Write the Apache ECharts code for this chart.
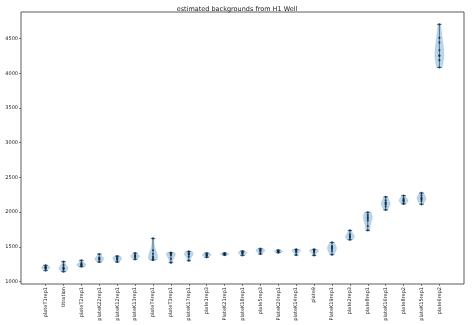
<!DOCTYPE html>
<html><head><meta charset="utf-8">
<script src="https://cdn.jsdelivr.net/npm/echarts@6/dist/echarts.min.js"></script>
<style>html,body{margin:0;padding:0;background:#fff}#c{width:474px;height:325px}</style>
</head><body><div id="c"></div>
<script>
const titleText = 'estimated backgrounds from H1 Well';
const categories = ['plateT1rep1','titration','plateT2rep1','plateK22rep1','plateK12rep1','plateK13rep1','plateT4rep1','plateT3rep1','plateK17rep1','plate1rep3','PlateK21rep1','plateK18rep1','plate5rep3','PlateK20rep1','plateK14rep1','plate9','PlateK19rep1','plate2rep3','plate8rep1','plateK16rep1','plate8rep2','plateK15rep1','plate6rep2'];
const vPlateT1rep1 = [1158, 1185, 1195, 1200, 1205, 1215, 1234];
const vTitration = [1143, 1175, 1185, 1195, 1205, 1240, 1287];
const vPlateT2rep1 = [1215, 1232, 1240, 1248, 1265, 1305];
const vPlateK22rep1 = [1281, 1315, 1325, 1335, 1345, 1396];
const vPlateK12rep1 = [1281, 1310, 1325, 1335, 1350, 1367];
const vPlateK13rep1 = [1320, 1350, 1360, 1370, 1380, 1410];
const vPlateT4rep1 = [1310, 1320, 1340, 1360, 1400, 1450, 1621];
const vPlateT3rep1 = [1272, 1330, 1380, 1395, 1405, 1416];
const vPlateK17rep1 = [1301, 1360, 1390, 1400, 1410, 1434];
const vPlate1rep3 = [1349, 1370, 1378, 1385, 1395, 1410];
const vPlateK21rep1 = [1381, 1390, 1395, 1398, 1402, 1410];
const vPlateK18rep1 = [1377, 1400, 1410, 1418, 1425, 1439];
const vPlate5rep3 = [1396, 1425, 1440, 1450, 1458, 1473];
const vPlateK20rep1 = [1416, 1428, 1433, 1437, 1442, 1453];
const vPlateK14rep1 = [1381, 1420, 1440, 1448, 1455, 1463];
const vPlate9 = [1377, 1415, 1435, 1445, 1455, 1463];
const vPlateK19rep1 = [1387, 1440, 1470, 1490, 1510, 1563];
const vPlate2rep3 = [1602, 1630, 1645, 1660, 1680, 1736];
const vPlate8rep1 = [1736, 1800, 1880, 1910, 1930, 1960, 1998];
const vPlateK16rep1 = [2032, 2080, 2110, 2125, 2140, 2170, 2219];
const vPlate8rep2 = [2118, 2145, 2160, 2170, 2180, 2200, 2238];
const vPlateK15rep1 = [2113, 2160, 2185, 2195, 2210, 2240, 2276];
const vPlate6rep2 = [4083, 4188, 4250, 4259, 4331, 4441, 4508, 4704];
const seriesValues = [vPlateT1rep1, vTitration, vPlateT2rep1, vPlateK22rep1, vPlateK12rep1, vPlateK13rep1, vPlateT4rep1, vPlateT3rep1, vPlateK17rep1, vPlate1rep3, vPlateK21rep1, vPlateK18rep1, vPlate5rep3, vPlateK20rep1, vPlateK14rep1, vPlate9, vPlateK19rep1, vPlate2rep3, vPlate8rep1, vPlateK16rep1, vPlate8rep2, vPlateK15rep1, vPlate6rep2];
const yTicks = [1000, 1500, 2000, 2500, 3000, 3500, 4000, 4500];

const positions = categories.map((c, i) => i + 1);

function kdeProfile(vals) {
  const n = vals.length;
  const mean = vals.reduce((a, b) => a + b, 0) / n;
  const sd = Math.sqrt(vals.reduce((a, b) => a + (b - mean) * (b - mean), 0) / (n - 1));
  const bw = sd * Math.pow(n, -0.2);
  const lo = Math.min(...vals), hi = Math.max(...vals);
  const out = [];
  for (let k = 0; k < 100; k++) {
    const y = lo + (hi - lo) * k / 99;
    let d = 0;
    for (const x of vals) d += Math.exp(-0.5 * ((y - x) / bw) ** 2);
    out.push([y, d]);
  }
  const mx = Math.max(...out.map(p => p[1]));
  return out.map(p => [p[0], p[1] / mx]);
}

const violinData = positions.map((p, i) => [p, Math.min(...seriesValues[i]), Math.max(...seriesValues[i])]);
const pointData = [];
positions.forEach((p, i) => seriesValues[i].forEach(v => pointData.push([p, v])));

const font = 'DejaVu Sans';
const chart = echarts.init(document.getElementById('c'));
chart.setOption({
  animation: false,
  title: { text: titleText, left: 'center', top: 1, textStyle: { fontSize: 6.5, fontWeight: 'normal', color: '#222', fontFamily: font } },
  grid: { left: 21, right: 10, top: 12, bottom: 41, show: true, borderColor: '#333', borderWidth: 0.8 },
  xAxis: {
    type: 'value', min: -0.375, max: 24.375,
    axisLine: { show: false, onZero: false },
    splitLine: { show: false },
    axisTick: { show: true, customValues: positions, length: 2, lineStyle: { color: '#333', width: 0.6 } },
    axisLabel: { customValues: positions, rotate: 90, fontSize: 5, color: '#222', fontFamily: font, margin: 3,
      formatter: v => categories[Math.round(v) - 1] || '' }
  },
  yAxis: {
    type: 'value', min: 965, max: 4882,
    axisLine: { show: false, onZero: false },
    splitLine: { show: false },
    axisTick: { show: true, customValues: yTicks, length: 2, lineStyle: { color: '#333', width: 0.6 } },
    axisLabel: { customValues: yTicks, fontSize: 5, color: '#222', fontFamily: font, margin: 3,
      formatter: v => String(Math.round(v)) }
  },
  series: [
    {
      type: 'custom',
      data: violinData,
      encode: { x: 0, y: [1, 2] },
      renderItem: function (params, api) {
        const i = params.dataIndex;
        const pos = api.value(0);
        const prof = kdeProfile(seriesValues[i]);
        const right = prof.map(p => api.coord([pos + 0.25 * p[1], p[0]]));
        const left = prof.slice().reverse().map(p => api.coord([pos - 0.25 * p[1], p[0]]));
        const lo = api.value(1), hi = api.value(2);
        const lc = '#24527a';
        const a = api.coord([pos, lo]), b = api.coord([pos, hi]);
        const c1 = api.coord([pos - 0.125, lo]), c2 = api.coord([pos + 0.125, lo]);
        const c3 = api.coord([pos - 0.125, hi]), c4 = api.coord([pos + 0.125, hi]);
        return {
          type: 'group',
          children: [
            { type: 'polygon', shape: { points: right.concat(left) }, style: { fill: 'rgba(31,119,180,0.3)', stroke: 'rgba(31,119,180,0.3)', lineWidth: 0.5 } },
            { type: 'line', shape: { x1: a[0], y1: a[1], x2: b[0], y2: b[1] }, style: { stroke: lc, lineWidth: 0.8 } },
            { type: 'line', shape: { x1: c1[0], y1: c1[1], x2: c2[0], y2: c2[1] }, style: { stroke: lc, lineWidth: 0.8 } },
            { type: 'line', shape: { x1: c3[0], y1: c3[1], x2: c4[0], y2: c4[1] }, style: { stroke: lc, lineWidth: 0.8 } }
          ]
        };
      }
    },
    {
      type: 'scatter',
      data: pointData,
      symbolSize: 2.2,
      itemStyle: { color: '#13283f' },
      z: 3
    }
  ]
});
</script>
</body></html>
